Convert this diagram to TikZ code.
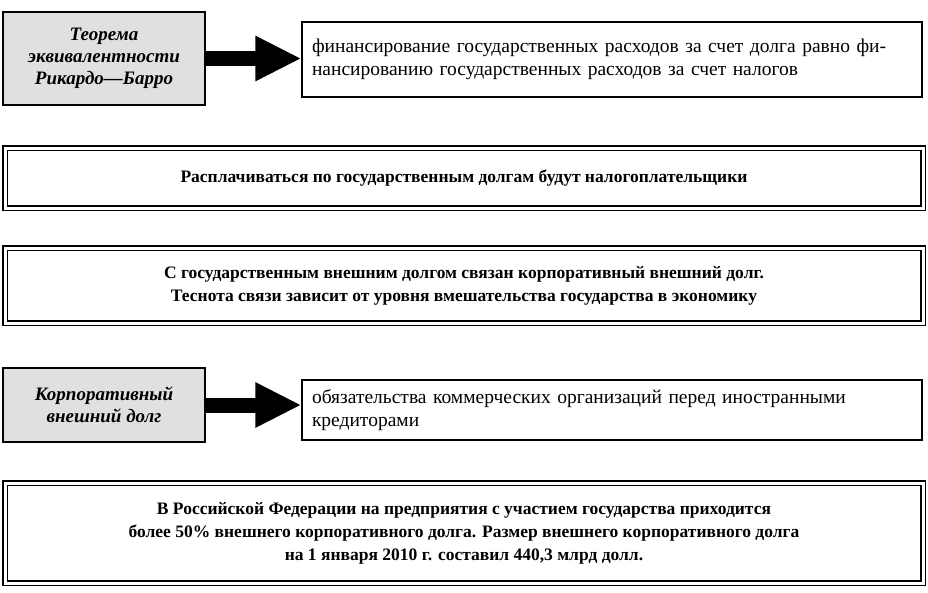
\documentclass[tikz,border=0pt]{standalone}
\usepackage{fontspec}
\setmainfont{Liberation Serif}
\usetikzlibrary{arrows.meta}
\begin{document}
\begin{tikzpicture}[x=1pt,y=-1pt,
 lbox/.style={draw,line width=1.6pt,fill=black!12,align=center,font=\bfseries\itshape\fontsize{19}{22}\selectfont},
 rbox/.style={draw,line width=1.2pt,fill=white,align=left,font=\fontsize{19.5}{23}\selectfont},
 dbox/.style={draw,line width=1.2pt,double,double distance=3pt,align=center,font=\bfseries\fontsize{17.5}{23}\selectfont},
 bigarrow/.style={line width=15pt,-{Triangle[length=46pt 0,width=42pt 0]}}]
\useasboundingbox (0,0) rectangle (928,592);
\node[lbox,minimum width=202pt,minimum height=93pt] (t1) at (104,58.5) {Теорема\\эквивалентности\\Рикардо—Барро};
\node[rbox,minimum width=620pt,minimum height=75pt,text width=600pt] (d1) at (612,59.5) {финансирование государственных расходов за счет долга равно фи-\\нансированию государственных расходов за счет налогов};
\draw[bigarrow] (t1.east) -- (t1.east -| d1.west);
\node[dbox,minimum width=918pt,minimum height=60pt] (b2) at (464,178) {Расплачиваться по государственным долгам будут налогоплательщики};
\node[dbox,minimum width=918pt,minimum height=75pt] (b3) at (464,285.5) {С государственным внешним долгом связан корпоративный внешний долг.\\Теснота связи зависит от уровня вмешательства государства в экономику};
\node[lbox,minimum width=202pt,minimum height=74pt] (t4) at (104,405) {Корпоративный\\внешний долг};
\node[rbox,minimum width=620pt,minimum height=60pt,text width=600pt] (d4) at (612,410) {обязательства коммерческих организаций перед иностранными\\кредиторами};
\draw[bigarrow] (t4.east) -- (t4.east -| d4.west);
\node[dbox,minimum width=918pt,minimum height=100pt] (b5) at (464,533) {В Российской Федерации на предприятия с участием государства приходится\\более 50\% внешнего корпоративного долга. Размер внешнего корпоративного долга\\на 1 января 2010 г. составил 440,3 млрд долл.};
\end{tikzpicture}
\end{document}
